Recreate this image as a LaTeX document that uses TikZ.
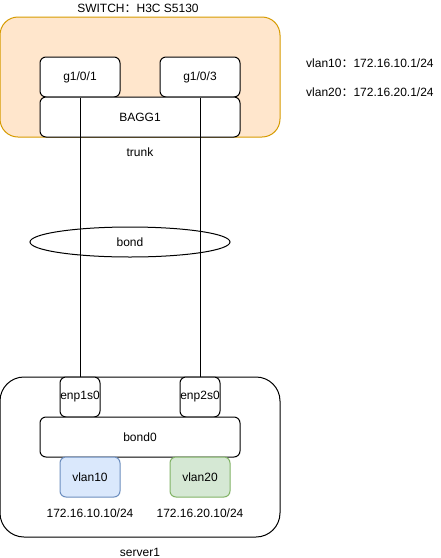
\documentclass[tikz,border=0pt]{standalone}
\usepackage{fontspec}
\setmainfont{Liberation Sans}
\newfontfamily\cjk{Noto Sans CJK SC}
\usetikzlibrary{shapes.geometric}
\definecolor{swfill}{HTML}{FFE6CC}
\definecolor{swdraw}{HTML}{D79B00}
\definecolor{vlanblue}{HTML}{DAE8FC}
\definecolor{vlanblued}{HTML}{6C8EBF}
\definecolor{vlangreen}{HTML}{D5E8D4}
\definecolor{vlangreend}{HTML}{82B366}
\tikzset{
  box/.style={
    rectangle, rounded corners=6pt,
    draw=black, fill=white, line width=1pt,
    minimum width=#1, minimum height=40pt, inner sep=0pt
  },
  chassis/.style={
    rectangle, rounded corners=#1,
    line width=1pt, minimum width=280pt, inner sep=0pt
  },
  plain/.style={inner sep=0pt},
  link/.style={draw=black, line width=1pt}
}

\begin{document}
\begin{tikzpicture}[x=1pt, y=-1pt,
    every node/.style={font=\fontsize{12pt}{14pt}\selectfont}
]
\useasboundingbox (0,0) rectangle (441,558);
% Switch
\node[chassis=18pt, draw=swdraw, fill=swfill, minimum height=120pt] (sw) at (140,77) {};
\node[plain] (swtitle) at (138,8) {SWITCH{\cjk ：}H3C S5130};
\node[box=80pt] (g1) at (80,77) {g1/0/1};
\node[box=80pt] (g3) at (200,77) {g1/0/3};
\node[box=200pt] (bagg) at (140,117) {BAGG1};
\node[plain] (trunk) at (140,152) {trunk};
% Adresses passerelle
\node[plain, anchor=west] (gw10) at (306,63) {vlan10{\cjk ：}172.16.10.1/24};
\node[plain, anchor=west] (gw20) at (306,92) {vlan20{\cjk ：}172.16.20.1/24};
% Agregat
\node[ellipse, draw, line width=1pt, minimum width=200pt, minimum height=30pt, inner sep=0pt] (bond) at (130,242) {bond};
% Serveur
\node[chassis=24pt, draw=black, fill=white, minimum height=160pt] (srv) at (140,457) {};
\node[box=40pt] (enp1) at (80,397) {enp1s0};
\node[box=40pt] (enp2) at (200,397) {enp2s0};
\node[box=200pt] (bond0) at (140,437) {bond0};
\node[box=60pt, draw=vlanblued, fill=vlanblue] (vlan10) at (90,477) {vlan10};
\node[box=60pt, draw=vlangreend, fill=vlangreen] (vlan20) at (200,477) {vlan20};
\node[plain] (ip10) at (90,513) {172.16.10.10/24};
\node[plain] (ip20) at (200,513) {172.16.20.10/24};
\node[plain] (srvname) at (140,552) {server1};
% Liaisons
\draw[link] (g1.south) -- (enp1.north);
\draw[link] (g3.south) -- (enp2.north);
\end{tikzpicture}
\end{document}
